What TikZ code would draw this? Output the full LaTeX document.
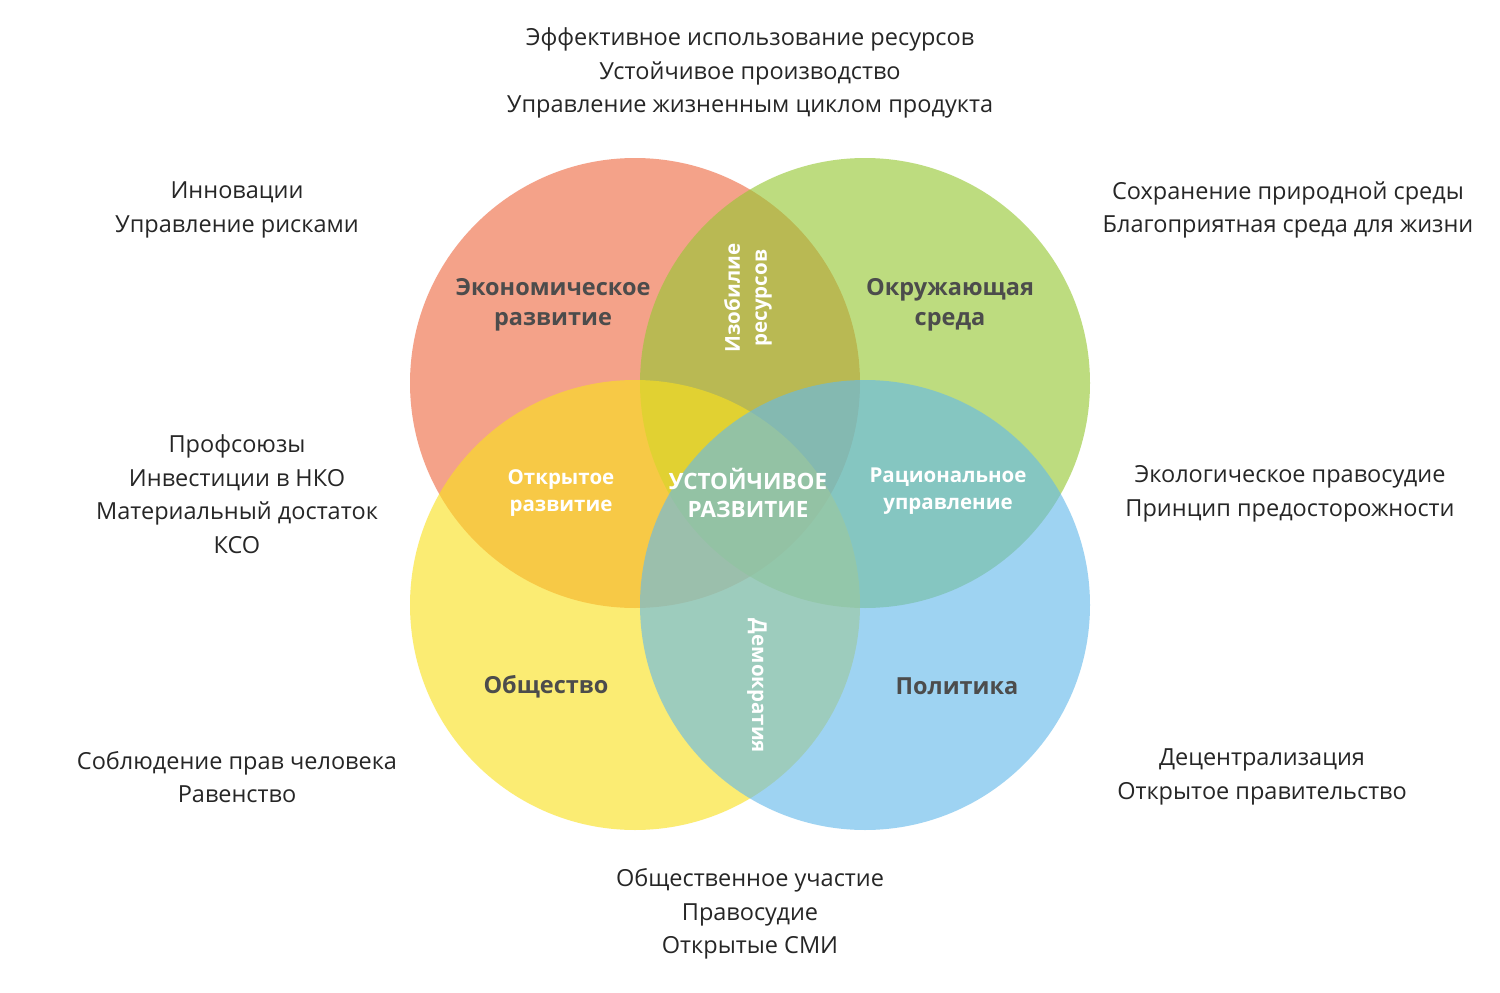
\documentclass[tikz,border=0pt]{standalone}
\usepackage{fontspec}
\setmainfont{Open Sans}
\begin{document}
\begin{tikzpicture}[x=1pt,y=-1pt,
  circ/.style={opacity=0.62},
  txt/.style={font=\fontsize{23.5}{33.5}\selectfont, align=center, text=black!85},
  lab/.style={font=\fontsize{23.5}{30}\selectfont\bfseries, align=center, text=black!70},
  wlab/.style={font=\fontsize{20.5}{27}\selectfont\bfseries, align=center, text=white}]
\useasboundingbox (0,0) rectangle (1500,993);
\fill[white] (0,0) rectangle (1500,993);
\fill[circ, fill={rgb,255:red,238;green,105;blue,65}] (635,383) circle (225);
\fill[circ, fill={rgb,255:red,150;green,200;blue,50}] (865,383) circle (225);
\fill[circ, fill={rgb,255:red,250;green,225;blue,30}] (635,605) circle (225);
\fill[circ, fill={rgb,255:red,100;green,185;blue,235}] (865,605) circle (225);
\node[txt] (t1) at (750,73) {Эффективное использование ресурсов\\Устойчивое производство\\Управление жизненным циклом продукта};
\node[txt] (t2) at (237,210) {Инновации\\Управление рисками};
\node[txt] (t3) at (1288,210) {Сохранение природной среды\\Благоприятная среда для жизни};
\node[txt] (t4) at (237,494) {Профсоюзы\\Инвестиции в НКО\\Материальный достаток\\КСО};
\node[txt] (t5) at (1290,494) {Экологическое правосудие\\Принцип предосторожности};
\node[txt] (t6) at (237,777) {Соблюдение прав человека\\Равенство};
\node[txt] (t7) at (1262,777) {Децентрализация\\Открытое правительство};
\node[txt] (t8) at (750,914) {Общественное участие\\Правосудие\\Открытые СМИ};
\node[lab] (l1) at (553,305) {Экономическое\\развитие};
\node[lab] (l2) at (950,305) {Окружающая\\среда};
\node[lab] (l3) at (546,687) {Общество};
\node[lab] (l4) at (957,686) {Политика};
\node[wlab, rotate=90] (w1) at (748,298) {Изобилие\\ресурсов};
\node[wlab] (w2) at (561,493) {Открытое\\развитие};
\node[wlab, font=\fontsize{22.5}{28}\selectfont\bfseries] (w3) at (748,493) {УСТОЙЧИВОЕ\\РАЗВИТИЕ};
\node[wlab] (w4) at (948,491) {Рациональное\\управление};
\node[wlab, rotate=-90] (w5) at (757,686) {Демократия};
\end{tikzpicture}
\end{document}
